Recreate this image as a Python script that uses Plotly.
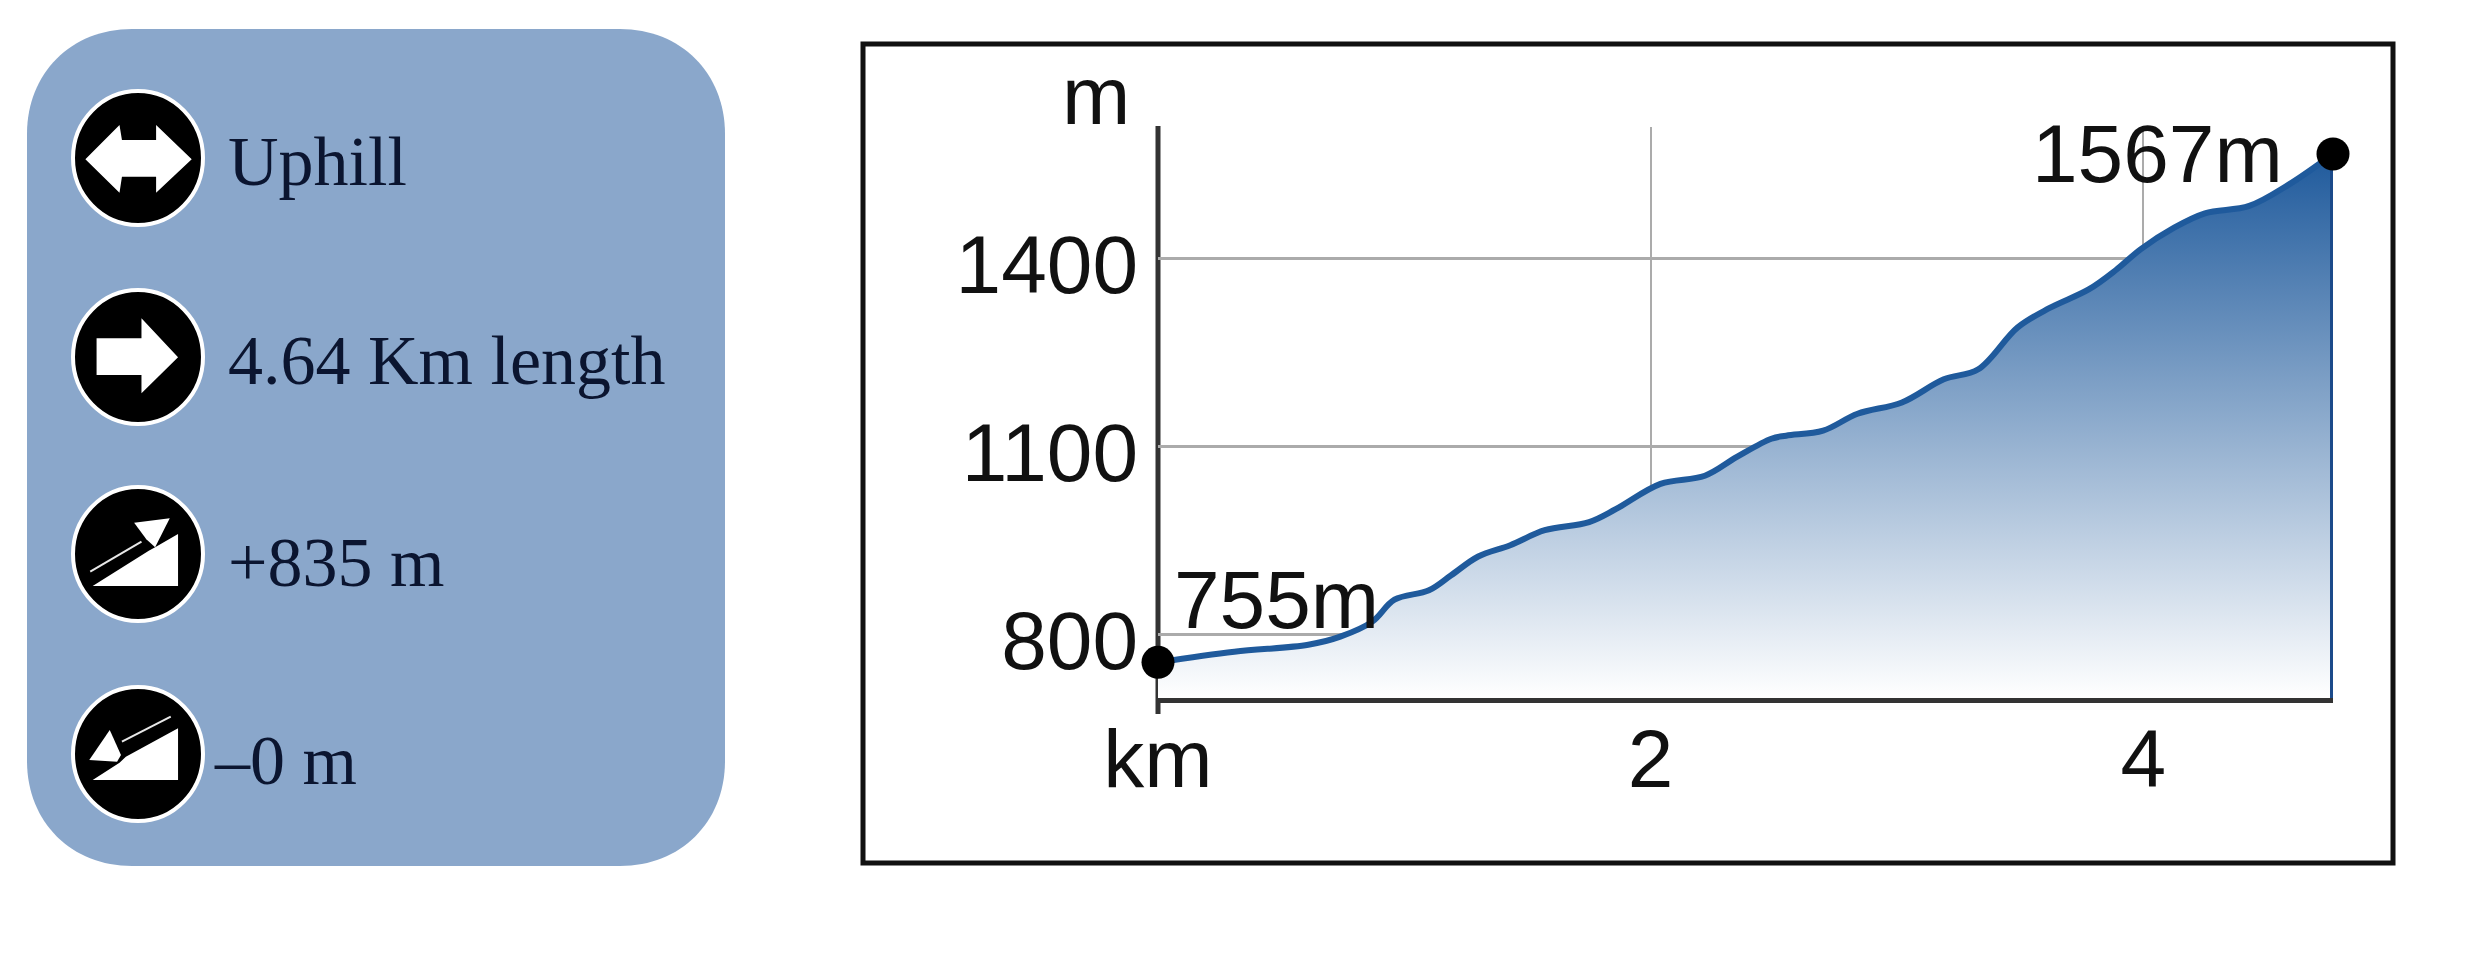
import plotly.graph_objects as go

W, H = 2484, 973
PAGE_MARGIN = 8  # browser's default body margin around the figure

# ---- data ----
km = [0, 0.31, 0.61, 0.74, 0.87, 0.96, 1.10, 1.19, 1.30, 1.43, 1.57, 1.75, 1.86, 2.04, 2.22, 2.35, 2.49,
      2.55, 2.70, 2.84, 3.02, 3.19, 3.33, 3.49, 3.62, 3.78, 3.89, 3.99, 4.12, 4.25, 4.43, 4.59, 4.77]
elev = [755, 772, 783, 796, 820, 855, 870, 894, 924, 942, 966, 979, 1000, 1040, 1053, 1083, 1112,
        1117, 1125, 1152, 1170, 1207, 1223, 1290, 1321, 1351, 1382, 1415, 1448, 1472, 1484, 1518, 1567]
end_km = [0, 4.77]
end_elev = [755, 1567]
end_labels = ["755m", "1567m"]
x_ticks = [0, 2, 4]
x_tick_labels = ["km", "2", "4"]
y_ticks = [800, 1100, 1400]
y_tick_labels = ["800", "1100", "1400"]
info_labels = ["Uphill", "4.64 Km length", "+835 m", "–0 m"]
Y_MIN, Y_MAX = 698, 1610

# ---- styles ----
LINE = "#1F5A9C"
EDGE = "#1B4A8A"
AXIS = "#333333"
GRID = "#ABABAB"
PANEL = "#8AA7CB"
TEXT = "#0B1530"


def px(x):
    return (x - PAGE_MARGIN) / (W - 2 * PAGE_MARGIN)


def py(y):
    return 1 - (y - PAGE_MARGIN) / (H - 2 * PAGE_MARGIN)


def path(points, close=True):
    s = "M " + " L ".join(f"{px(x):.5f},{py(y):.5f}" for x, y in points)
    return s + (" Z" if close else "")


def z1(points, y0=0):
    # zoom-view coordinates of the icon sketches to page pixels
    return [(x / 2.05, y0 + y / 3) for x, y in points]


def rounded(x0, y0, x1, y1, r):
    k = 0.42 * r
    c = lambda x, y: f"{px(x):.5f},{py(y):.5f}"
    return (f"M {c(x0 + r, y0)} L {c(x1 - r, y0)} C {c(x1 - k, y0)} {c(x1, y0 + k)} {c(x1, y0 + r)} "
            f"L {c(x1, y1 - r)} C {c(x1, y1 - k)} {c(x1 - k, y1)} {c(x1 - r, y1)} "
            f"L {c(x0 + r, y1)} C {c(x0 + k, y1)} {c(x0, y1 - k)} {c(x0, y1 - r)} "
            f"L {c(x0, y0 + r)} C {c(x0, y0 + k)} {c(x0 + k, y0)} {c(x0 + r, y0)} Z")


shapes = [
    dict(type="path", xref="paper", yref="paper", path=rounded(27, 29, 725, 866, 105),
         fillcolor=PANEL, line=dict(width=0), layer="below"),
    dict(type="rect", xref="paper", yref="paper", x0=px(863), x1=px(2393), y0=py(44), y1=py(863),
         line=dict(color="#111111", width=5), layer="below"),
]

for cy in [158, 357, 554, 754]:
    shapes.append(dict(type="circle", xref="paper", yref="paper",
                       x0=px(138 - 65), x1=px(138 + 65), y0=py(cy - 67), y1=py(cy + 67),
                       fillcolor="black", line=dict(color="white", width=4)))

white_polys = [
    z1([(175, 478), (245, 375), (250, 420), (320, 420), (320, 375), (393, 478), (320, 578), (320, 530), (250, 530), (245, 578)]),
    z1([(198, 1015), (290, 1015), (290, 955), (365, 1072), (290, 1180), (290, 1125), (198, 1125)]),
    z1([(190, 378), (365, 378), (365, 222), (318, 262), (305, 272)], 460),
    z1([(275, 188), (348, 175), (318, 262), (300, 238)], 460),
    z1([(190, 960), (365, 960), (365, 805), (258, 890), (245, 908)], 460),
    z1([(225, 810), (248, 885), (240, 905), (183, 900)], 460),
]
for poly in white_polys:
    shapes.append(dict(type="path", xref="paper", yref="paper", path=path(poly),
                       fillcolor="white", line=dict(width=0)))
for seg in [z1([(185, 335), (290, 245)], 460), z1([(250, 845), (350, 770)], 460)]:
    shapes.append(dict(type="path", xref="paper", yref="paper", path=path(seg, close=False),
                       line=dict(color="#E8E8E8", width=2)))

# vertical axis, running a little past the base line
shapes.append(dict(type="line", xref="paper", yref="paper", x0=px(1158), x1=px(1158), y0=py(126), y1=py(714),
                   line=dict(color=AXIS, width=5), layer="below"))

fig = go.Figure()
fig.add_trace(go.Scatter(
    x=km, y=elev, mode="lines", line=dict(color=LINE, width=6, shape="spline", smoothing=1.0),
    fill="tozeroy",
    fillgradient=dict(type="vertical", start=Y_MIN, stop=end_elev[1],
                      colorscale=[[0, "#FFFFFF"], [1, "#1F5A9C"]]),
    showlegend=False, hoverinfo="skip"))
fig.add_trace(go.Scatter(x=[end_km[1], end_km[1]], y=[Y_MIN, end_elev[1]], mode="lines",
                         line=dict(color=EDGE, width=6), showlegend=False, hoverinfo="skip", cliponaxis=False))
fig.add_trace(go.Scatter(x=end_km, y=end_elev, mode="markers", marker=dict(color="black", size=33),
                         showlegend=False, hoverinfo="skip", cliponaxis=False))

ann = []
for label, cy in zip(info_labels, [161, 361, 562, 760]):
    ann.append(dict(text=label, xref="paper", yref="paper", x=px(212 if label.startswith("–") else 226), y=py(cy),
                    xanchor="left", yanchor="middle", showarrow=False,
                    font=dict(family="Liberation Serif", size=70, color=TEXT)))
sans = dict(family="Liberation Sans", size=82, color="#111111")
ann.append(dict(text="m", xref="paper", yref="paper", x=px(1096), y=py(95), xanchor="center", yanchor="middle",
                showarrow=False, font=sans))
ann.append(dict(text=end_labels[0], x=end_km[0], y=end_elev[0], xref="x", yref="y", xanchor="left", yanchor="middle",
                xshift=14, yshift=63, showarrow=False, font=sans))
ann.append(dict(text=end_labels[1], x=end_km[1], y=end_elev[1], xref="x", yref="y", xanchor="right", yanchor="middle",
                xshift=-48, yshift=0, showarrow=False, font=sans))

fig.update_layout(
    width=W - 2 * PAGE_MARGIN, height=H - 2 * PAGE_MARGIN, margin=dict(l=0, r=0, t=0, b=0),
    paper_bgcolor="white", plot_bgcolor="rgba(0,0,0,0)",
    shapes=shapes, annotations=ann,
    xaxis=dict(domain=[px(1158), px(2333)], range=[0, 4.77], tickvals=x_ticks, ticktext=x_tick_labels,
               showgrid=True, gridcolor=GRID, gridwidth=2, zeroline=False, showline=True, linecolor=AXIS, linewidth=5,
               ticks="", ticklabelstandoff=-14, tickfont=sans, automargin=False, anchor="y"),
    yaxis=dict(domain=[py(698), py(127)], range=[Y_MIN, Y_MAX], tickvals=y_ticks, ticktext=y_tick_labels,
               showgrid=True, gridcolor=GRID, gridwidth=3, zeroline=False, showline=False,
               ticks="", ticklabelstandoff=19, ticklabelshift=6, tickfont=sans, automargin=False, anchor="x"),
)

fig.write_html("out.html")
